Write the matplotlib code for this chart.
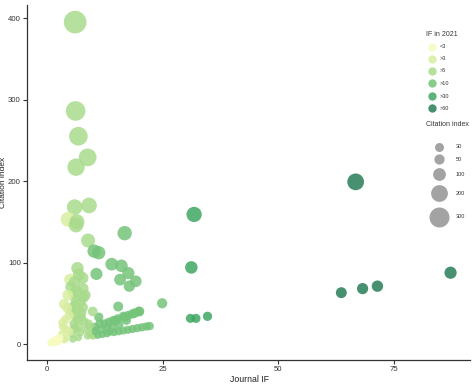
import numpy as np
import pandas as pd
import matplotlib
matplotlib.use("Agg")
import matplotlib.pyplot as plt
from matplotlib.lines import Line2D

plt.rcParams['font.family'] = ['Liberation Sans', 'DejaVu Sans']

# ---- data ----
journal_if = [
    # outliers / upper region
    6.1, 6.2, 6.8, 8.8, 6.3, 6.0, 9.1, 4.6, 6.5, 6.3, 16.8, 8.9, 10.2, 11.2,
    14.0, 16.1, 17.6, 10.7, 15.8, 19.2, 17.8, 15.4, 24.9, 11.2, 16.8, 19.0, 19.9, 14.9,
    # >30
    31.8, 31.2, 31.0, 32.2, 34.7,
    # >60
    66.7, 63.6, 68.2, 71.4, 87.2,
    # dense column (5-10)
    6.6, 5.0, 7.7, 6.0, 7.8, 5.8, 7.3, 6.2, 5.5, 6.8, 6.0, 7.5, 5.3, 9.9, 6.5, 5.8,
    7.0, 8.0, 6.2, 5.5, 7.2, 6.8, 5.6, 8.5, 9.0, 7.8, 6.4, 5.2, 8.3, 6.9, 7.4, 5.9,
    8.8, 9.5, 6.1, 7.9,
    # 3-5
    3.7, 3.5, 4.0, 4.5, 3.2, 4.2, 3.8, 4.8, 4.2, 4.4, 3.4, 4.9,
    # <3
    0.8, 1.2, 1.8, 2.2, 2.6, 1.5, 2.8, 2.4, 2.0, 1.0,
    # streak y ~ x
    10.0, 11.0, 12.0, 13.0, 13.6, 14.5, 15.5, 16.5, 17.5, 18.5, 19.5, 20.5, 21.5, 22.2,
    # streak y ~ 2x
    10.4, 11.4, 12.4, 13.4, 14.3, 15.3, 16.5, 17.5, 18.5, 20.0,
    # streak y ~ 1.5x
    9.3, 10.5, 11.8, 13.0, 14.2, 15.6, 17.2,
]
citation_index = [
    395, 286, 255, 229, 217, 168, 170, 153, 150, 146, 136, 127, 114, 112,
    98, 96, 87, 86, 79, 77, 71, 46, 50, 33, 33, 38, 40, 29,
    159, 94, 31.5, 31.5, 34,
    199, 63, 68, 71, 87.5,
    93, 79, 81, 76, 68, 62, 52, 55, 45, 42, 35, 38, 40, 40, 30, 25,
    22, 28, 18, 12, 14, 8, 6, 18, 25, 45, 65, 70, 60, 85, 33, 20,
    10, 12, 48, 57,
    49, 21, 30, 60, 12, 8, 5, 35, 18, 44, 26, 15,
    1, 2, 3, 4, 5, 1.5, 8, 2.4, 6, 3,
    10, 11, 12, 13, 15, 14.5, 15.5, 16.5, 17.5, 18.5, 19.5, 20.5, 21.5, 22,
    21, 25, 25, 27, 29, 31, 34, 35, 37, 40,
    21, 16, 18, 20, 21, 24, 29,
]

if_bins = [-np.inf, 3, 5, 10, 30, 60, np.inf]
if_labels = ['<3', '>3', '>5', '>10', '>30', '>60']
if_colors = ['#f7fbc0', '#d9eea0', '#a9db8c', '#74c47a', '#3fa763', '#277d57']

size_breaks = [30, 50, 100, 200, 300]

df = pd.DataFrame({'jif': journal_if, 'ci': citation_index})
df['cat'] = pd.cut(df['jif'], bins=if_bins, labels=if_labels)
color_map = dict(zip(if_labels, if_colors))

W, H = 474, 387


def area(v):
    return 23.6 + 0.612 * np.asarray(v, dtype=float)


def fx(px):
    return px / W


def fy(py):
    return 1 - py / H


fig = plt.figure(figsize=(W / 100, H / 100), dpi=100)
ax = fig.add_axes([fx(27), fy(360), 443 / W, 355 / H])

ax.scatter(df['jif'], df['ci'], s=area(df['ci']),
           c=[color_map[c] for c in df['cat']], alpha=0.85, linewidths=0)

ax.set_xlim(-4.3, 91.4)
ax.set_ylim(-19.6, 416)
ax.set_xticks([0, 25, 50, 75])
ax.set_yticks([0, 100, 200, 300, 400])
for s in ['top', 'right']:
    ax.spines[s].set_visible(False)
for s in ['left', 'bottom']:
    ax.spines[s].set_color('#333333')
    ax.spines[s].set_linewidth(0.9)
ax.tick_params(axis='both', labelsize=5.6, colors='#333333', length=3, width=0.8,
               labelcolor='#333333', pad=1.5)
ax.set_xlabel('Journal IF', fontsize=6.3, color='#222222')
ax.set_ylabel('Citation index', fontsize=6.0, color='#222222')
ax.xaxis.set_label_coords((249 - 27) / 443, (360 - 379) / 355)
ax.xaxis.label.set_va('center')
ax.yaxis.set_label_coords((4 - 27) / 443, 0.5)
ax.yaxis.label.set_va('center')

# ---- colour legend (IF in 2021) ----
fig.text(fx(426), fy(35), 'IF in 2021', fontsize=5, color='#333333',
         ha='left', va='center')
for lab, col, py in zip(if_labels, if_colors, [46.7, 59, 71, 83.3, 96, 108.3]):
    fig.add_artist(Line2D([fx(432)], [fy(py)], marker='o', linestyle='',
                          markersize=6, markerfacecolor=col, markeredgewidth=0,
                          alpha=0.85, transform=fig.transFigure))
    fig.text(fx(440), fy(py), lab, fontsize=4, color='#333333',
             ha='left', va='center')

# ---- size legend (Citation index) ----
fig.text(fx(426), fy(124), 'Citation index', fontsize=5, color='#333333',
         ha='left', va='center')
for v, py in zip(size_breaks, [147, 159, 174, 193, 217]):
    fig.add_artist(Line2D([fx(439)], [fy(py)], marker='o', linestyle='',
                          markersize=np.sqrt(area(v)), markerfacecolor='#999999',
                          markeredgewidth=0, alpha=0.9, transform=fig.transFigure))
    fig.text(fx(456), fy(py), str(v), fontsize=4, color='#333333',
             ha='left', va='center')

fig.savefig('out.png', dpi=100)
